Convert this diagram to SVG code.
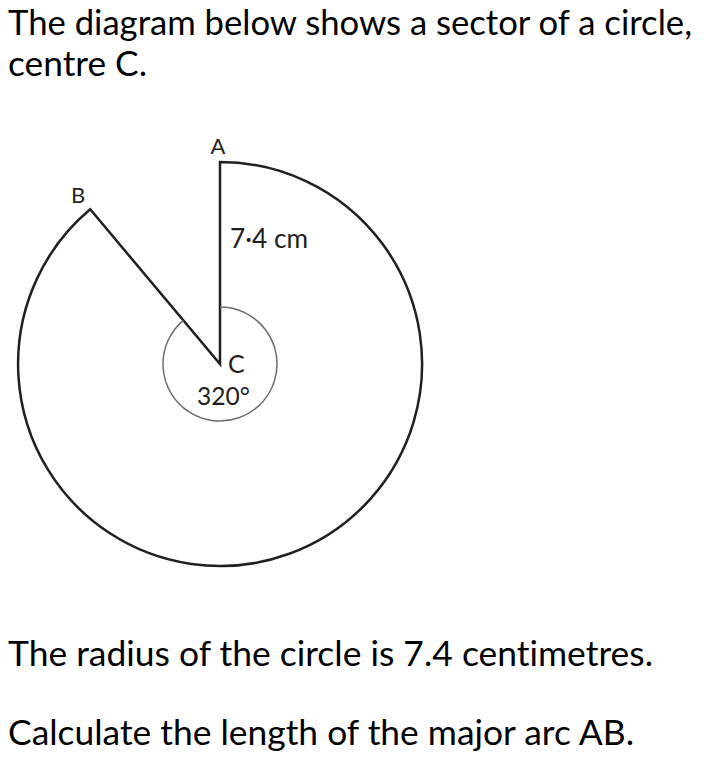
<svg xmlns="http://www.w3.org/2000/svg" width="706" height="757" viewBox="0 0 706 757">
<style>
.q{font-family:Lato,"Open Sans","Liberation Sans",sans-serif;font-size:35px;fill:#000;font-variant-ligatures:none}
.l{font-family:Lato,"Open Sans","Liberation Sans",sans-serif;fill:#231f20}
.main{fill:none;stroke:#231f20;stroke-width:2.5;stroke-linejoin:miter}
.ang{fill:none;stroke:#6d6d6d;stroke-width:1.5}
</style>
<rect width="706" height="757" fill="#fff"/>
<g id="question">
<text class="q" x="8" y="35" font-size="33" textLength="684" lengthAdjust="spacingAndGlyphs">The diagram below shows a sector of a circle,</text>
<text class="q" x="8" y="76" textLength="139" lengthAdjust="spacingAndGlyphs">centre C.</text>
<text class="q" x="8" y="666" textLength="645" lengthAdjust="spacingAndGlyphs">The radius of the circle is 7.4 centimetres.</text>
<text class="q" x="8" y="745" textLength="626" lengthAdjust="spacingAndGlyphs">Calculate the length of the major arc AB.</text>
</g>
<g id="sector">
<path class="main" d="M220 364 L220 162 A202 202 0 1 1 90.2 209.3 Z"/>
</g>
<g id="angle">
<path class="ang" d="M220 307 A57 57 0 1 1 183.4 320.3"/>
</g>
<g id="labels">
<text class="l" x="218" y="154" text-anchor="middle" font-size="22">A</text>
<text class="l" x="78" y="203" text-anchor="middle" font-size="22">B</text>
<text class="l" x="230" y="248" font-size="27" textLength="78" lengthAdjust="spacingAndGlyphs">7·4 cm</text>
<text class="l" x="228" y="373" font-size="25">C</text>
<text class="l" x="197" y="405" font-size="25" textLength="53" lengthAdjust="spacingAndGlyphs">320°</text>
</g>
</svg>
